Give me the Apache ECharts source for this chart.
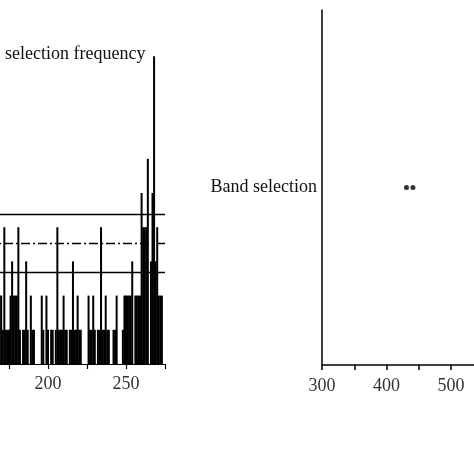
<!DOCTYPE html>
<html><head><meta charset="utf-8">
<script src="https://cdn.jsdelivr.net/npm/echarts@6/dist/echarts.min.js"></script>
<style>html,body{margin:0;padding:0;background:#fff}#c{width:474px;height:474px}</style>
</head><body><div id="c"></div>
<script>
// Left panel: band index -> selection frequency (visible part)
const bandStart = 169;
const freq = [
 2,2,1,4,1,1,1,2,3,2, 2,2,4,1,0,1,1,3,1,0,   // 169-188
 2,1,1,0,0,0,0,2,1,0, 2,1,0,1,1,0,1,4,1,1,   // 189-208
 1,2,1,1,0,1,1,3,1,1, 2,1,1,0,0,0,0,2,1,1,   // 209-228
 2,1,0,1,1,4,1,1,2,1, 1,0,0,1,1,2,0,0,0,1,   // 229-248
 2,2,2,2,2,3,0,2,2,2, 2,5,4,4,4,6,0,3,5,9,   // 249-268
 3,4,2,2,2                                   // 269-273
];
const refLines = [2.67, 3.53, 4.39];
const refLineTypes = ['solid', [9,3,2,3], 'solid'];
// Right panel
const bandCategories = ['Band selection'];
const selectedBands = [431, 441];
// Tick labels
const leftTickLabels = [200, 250];
const rightTickLabels = [300, 400, 500];

const bars = freq.map((v, i) => [bandStart + i, v]);
const serif = 'Liberation Serif, Times New Roman, serif';

const chart = echarts.init(document.getElementById('c'), null, {renderer: 'canvas'});
chart.setOption({
  animation: false,
  backgroundColor: '#fff',
  title: {
    text: 'selection frequency', left: 5, top: 45, padding: 0,
    textStyle: {fontFamily: serif, fontSize: 18, fontWeight: 'normal', color: '#111'}
  },
  grid: [
    {left: -30, width: 195, top: 22, bottom: 110, containLabel: false, outerBoundsMode: 'none'},
    {left: 322, width: 193.5, top: 10, bottom: 109, containLabel: false, outerBoundsMode: 'none'}
  ],
  xAxis: [
    {gridIndex: 0, type: 'value', min: 150, max: 275, interval: 25,
     axisLine: {show: true, lineStyle: {color: '#000', width: 1.2}},
     axisTick: {show: true, length: 5, lineStyle: {color: '#000', width: 1.2}},
     splitLine: {show: false},
     axisLabel: {fontFamily: serif, fontSize: 18, color: '#333', margin: 11,
       formatter: v => leftTickLabels.includes(v) ? String(v) : ''}},
    {gridIndex: 1, type: 'value', min: 300, max: 600, interval: 50,
     axisLine: {show: true, lineStyle: {color: '#000', width: 1.5}},
     axisTick: {show: true, length: 5, lineStyle: {color: '#000', width: 1.5}},
     splitLine: {show: false},
     axisLabel: {fontFamily: serif, fontSize: 18, color: '#333', margin: 12,
       formatter: v => rightTickLabels.includes(v) ? String(v) : ''}}
  ],
  yAxis: [
    {gridIndex: 0, type: 'value', min: 0, max: 10, show: false, splitLine: {show: false}},
    {gridIndex: 1, type: 'category', data: bandCategories,
     axisLine: {show: true, lineStyle: {color: '#000', width: 1.5}},
     axisTick: {show: false},
     axisLabel: {fontFamily: serif, fontSize: 18, color: '#111', margin: 5}}
  ],
  series: [
    {type: 'bar', xAxisIndex: 0, yAxisIndex: 0, data: bars, barWidth: 2,
     itemStyle: {color: '#000'}, silent: true,
     markLine: {symbol: 'none', silent: true, label: {show: false},
       data: refLines.map((v, i) => ({yAxis: v, lineStyle: {color: '#000', width: 1.3, type: refLineTypes[i]}}))}},
    {type: 'scatter', xAxisIndex: 1, yAxisIndex: 1, symbolSize: 5,
     itemStyle: {color: '#000'},
     data: selectedBands.map(b => [b, bandCategories[0]])}
  ]
});
</script>
</body></html>
